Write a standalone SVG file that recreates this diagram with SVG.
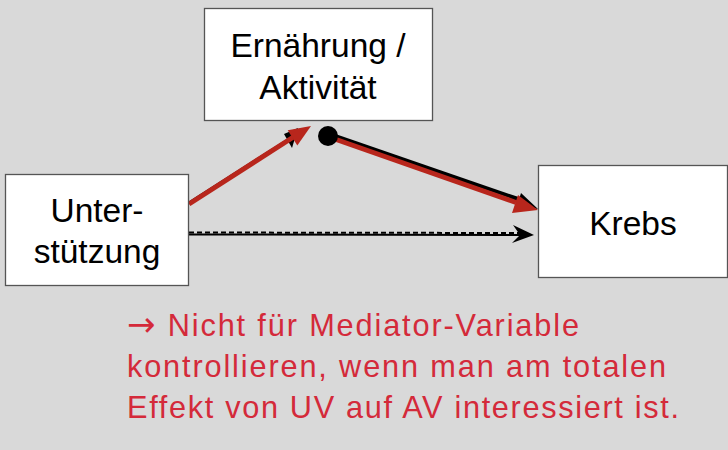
<svg xmlns="http://www.w3.org/2000/svg" width="728" height="450" viewBox="0 0 728 450">
<style>
.box{fill:#ffffff;stroke:#555555;stroke-width:1.3}
.lbl{font-family:"Liberation Sans",Arial,sans-serif;font-size:33.5px;fill:#000000;text-anchor:middle}
.note{font-family:"Liberation Sans",Arial,sans-serif;font-size:30.7px;fill:#d42a3a}
.arr{font-family:"DejaVu Sans",sans-serif;font-size:34px}
.red{stroke:#b8261c;stroke-width:5;fill:none}
.blk{stroke:#000000;fill:none}
</style>
<rect x="0" y="0" width="728" height="450" fill="#d9d9d9"/>
<g id="connectors">
  <!-- Unterstützung -> Ernährung -->
  <line class="blk" x1="189" y1="203" x2="288" y2="140" stroke-width="3"/>
  <polygon points="298,128 284,134 292,148" fill="#000000"/>
  <line class="red" x1="189" y1="204" x2="295" y2="136"/>
  <polygon points="311,126 287.7,130.2 297.3,145.4" fill="#b8261c"/>
  <!-- dot -> Krebs -->
  <line class="blk" x1="329" y1="134" x2="518" y2="199" stroke-width="4"/>
  <polygon points="538,209 521,193 517,206" fill="#000000"/>
  <line class="red" x1="329" y1="137" x2="516" y2="202.5"/>
  <polygon points="538,210 518,195 512,213" fill="#b8261c"/>
  <circle cx="328" cy="136" r="10" fill="#000000"/>
  <!-- Unterstützung -> Krebs dashed -->
  <line class="blk" x1="189" y1="234.5" x2="522" y2="235" stroke-width="2"/>
  <line class="blk" x1="189" y1="232.5" x2="522" y2="233" stroke-width="2" stroke-dasharray="5 3"/>
  <polygon points="534,235 513,225 520,235 512,243" fill="#000000"/>
</g>
<g id="node-ernaehrung">
  <rect class="box" x="204.5" y="8.5" width="228" height="112"/>
  <text class="lbl" x="318" y="57">Ernährung /</text>
  <text class="lbl" x="318" y="99">Aktivität</text>
</g>
<g id="node-unterstuetzung">
  <rect class="box" x="5.5" y="174.5" width="183" height="111"/>
  <text class="lbl" x="97" y="222">Unter-</text>
  <text class="lbl" x="97" y="263">stützung</text>
</g>
<g id="node-krebs">
  <rect class="box" x="538.5" y="165.5" width="189" height="112"/>
  <text class="lbl" x="633" y="235">Krebs</text>
</g>
<g id="note">
  <text class="note" x="127" y="336" textLength="452" lengthAdjust="spacing"><tspan class="arr">→</tspan> Nicht für Mediator-Variable</text>
  <text class="note" x="127" y="377" textLength="539" lengthAdjust="spacing">kontrollieren, wenn man am totalen</text>
  <text class="note" x="127" y="418" textLength="552" lengthAdjust="spacing">Effekt von UV auf AV interessiert ist.</text>
</g>
</svg>
